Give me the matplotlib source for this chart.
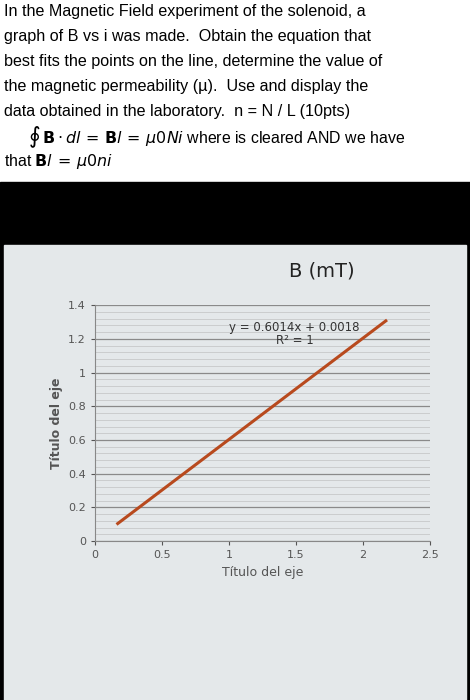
import matplotlib
matplotlib.use('Agg')
import matplotlib.pyplot as plt
import numpy as np
from matplotlib.patches import Rectangle

current = [0.17, 0.5, 1.0, 1.5, 2.17]
field = [0.104, 0.303, 0.603, 0.904, 1.307]
x_ticks = [0, 0.5, 1, 1.5, 2, 2.5]
y_ticks = [0, 0.2, 0.4, 0.6, 0.8, 1, 1.2, 1.4]

question = [
    "In the Magnetic Field experiment of the solenoid, a",
    "graph of B vs i was made.  Obtain the equation that",
    "best fits the points on the line, determine the value of",
    "the magnetic permeability (µ).  Use and display the",
    "data obtained in the laboratory.  n = N / L (10pts)",
]

fig = plt.figure(figsize=(4.7, 7), dpi=100)
fig.patch.set_facecolor('white')

# question text block
for k, line in enumerate(question):
    fig.text(0.008, 0.983 - k * 0.0357, line, fontsize=11.6, family='Liberation Sans', va='center')
fig.text(0.06, 0.983 - 5 * 0.0357, r"$\oint\, \mathbf{B} \cdot dl\, =\, \mathbf{B}l\, =\, \mu 0 Ni$ where is cleared AND we have",
         fontsize=11.4, family='Liberation Sans', va='center')
fig.text(0.008, 0.983 - 6 * 0.0357, r"that $\mathbf{B}l\, =\, \mu 0ni$", fontsize=11.4, family='Liberation Sans', va='center')

# black band and photo panel (behind the axes)
fig.patches.append(Rectangle((0, 0), 1, 0.74, transform=fig.transFigure, color='black', zorder=-10))
fig.patches.append(Rectangle((0.008, 0), 0.984, 0.65, transform=fig.transFigure, color='#e4e8ea', zorder=-9))

ax = fig.add_axes([0.202, 0.227, 0.713, 0.337])
ax.set_facecolor('#e4e8ea')
coeffs = np.polyfit(current, field, 1)
line = np.poly1d(coeffs)
xs = np.array([current[0], current[-1]])
ax.plot(xs, line(xs), color='#b84a1e', lw=2.2)
ax.set_xlim(0, 2.5)
ax.set_ylim(0, 1.4)
ax.set_xticks(x_ticks)
ax.set_xticklabels(['0', '0.5', '1', '1.5', '2', '2.5'])
ax.set_yticks(y_ticks)
ax.set_yticklabels(['0', '0.2', '0.4', '0.6', '0.8', '1', '1.2', '1.4'])
ax.set_yticks(np.arange(0, 1.41, 0.04), minor=True)
ax.tick_params(which='minor', length=0)
ax.tick_params(colors='#555555', labelsize=8, length=3)
ax.grid(axis='y', which='major', color='#8a8a8a', lw=0.9)
ax.grid(axis='y', which='minor', color='#b8b8b8', lw=0.4)
for s in ['top', 'right']:
    ax.spines[s].set_visible(False)
ax.spines['left'].set_color('#888888')
ax.spines['bottom'].set_color('#888888')
ax.text(1.49, 1.27, 'y = 0.6014x + 0.0018', fontsize=8.5, ha='center', va='center', color='#333333')
ax.text(1.49, 1.19, 'R² = 1', fontsize=8.5, ha='center', va='center', color='#333333')
ax.set_xlabel('Título del eje', fontsize=9, color='#555555')
ax.set_ylabel('Título del eje', fontsize=9, color='#555555', fontweight='bold')
fig.text(0.685, 0.613, 'B (mT)', fontsize=14, ha='center', va='center', color='#222222')

fig.savefig('out.png', dpi=100)
